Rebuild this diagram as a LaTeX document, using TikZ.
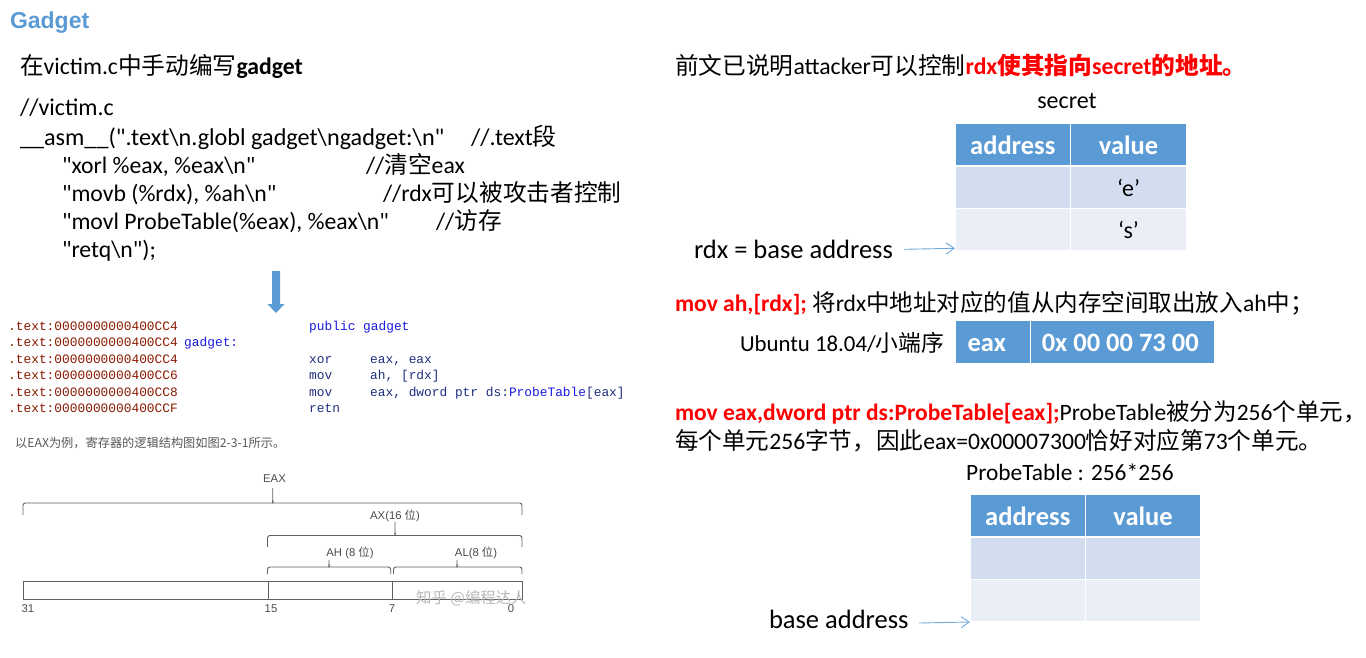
\documentclass[tikz,border=0pt]{standalone}
\usepackage{fontspec}
\setmainfont{Carlito}
\newfontfamily\cjk{Noto Sans CJK SC}
\newfontfamily\arialf{Liberation Sans}
\newfontfamily\monof{Liberation Mono}
\newfontfamily\carl{Carlito}
\newcommand{\zh}[1]{{\cjk #1}}
\newcommand{\dq}{{\carl\char34 }}
\newcommand{\bs}{\textbackslash}
\newcommand{\fsz}[1]{\fontsize{#1}{#1}\selectfont}
% left x, right x, centre x, top y, bottom y, peak y
\newcommand{\regbrace}[6]{%
  \pgfmathsetmacro{\cl}{#3-2.5}\pgfmathsetmacro{\cr}{#3+2.5}%
  \pgfmathsetmacro{\st}{#4-3}%
  \pgfmathsetmacro{\ctl}{#3-0.8}\pgfmathsetmacro{\ctr}{#3+0.8}%
  \pgfmathsetmacro{\cty}{#4-0.8}%
  \draw[brace] (#1,#5) -- (#1,#4) -- (\cl,#4) .. controls (\ctl,#4) and (#3,\cty) .. (#3,\st) -- (#3,#6);
  \draw[brace] (#2,#5) -- (#2,#4) -- (\cr,#4) .. controls (\ctr,#4) and (#3,\cty) .. (#3,\st);
}
\definecolor{hdr}{HTML}{5B9BD5}
\definecolor{rowa}{HTML}{D2DEEF}
\definecolor{rowb}{HTML}{EAEFF7}
\definecolor{addrc}{HTML}{8B1A00}
\definecolor{opc}{HTML}{1F2F7F}
\definecolor{symc}{HTML}{1A1AE0}
\definecolor{linec}{HTML}{606060}
\usetikzlibrary{arrows.meta}
\tikzset{
 x=1pt,y=-1pt,
 txt/.style={anchor=base west,inner sep=0pt,outer sep=0pt,font=\fsz{24},text=black},
 txtc/.style={txt,font=\fsz{23.7}},
 txtb/.style={txt,font=\fsz{26.5}},
 code/.style={anchor=base west,inner sep=0pt,font=\monof\fsz{12.85},text=opc},
 addr/.style={code,text=addrc},
 cell/.style={anchor=north west,inner sep=0pt,outer sep=0pt,draw=none},
 hcell/.style={cell,fill=hdr,text=white,font=\fsz{26.5}\bfseries,text height=19pt,text depth=0pt},
 rowA/.style={cell,fill=rowa,text=black,font=\fsz{24}},
 rowB/.style={cell,fill=rowb,text=black,font=\fsz{24}},
 thin arrow/.style={draw=hdr!85,line width=.9pt,-{Straight Barb[length=8pt,width=11pt]}},
 brace/.style={draw=linec,line width=.9pt,rounded corners=2.5pt},
 regline/.style={draw=linec,line width=.9pt},
 fig/.style={inner sep=0pt,text=black!70,font=\arialf\fsz{11.3}},
}
\begin{document}
\begin{tikzpicture}
\useasboundingbox (0,0) rectangle (1366,657);
\fill[white] (0,0) rectangle (1366,657);
\node[txt,font=\arialf\bfseries\fsz{23},text=hdr] (title) at (10,28) {Gadget};

\node[txt,font=\fsz{23.7}] (l1) at (20,74) {\zh{在}victim.c\zh{中手动编写}\textbf{gadget}};
\node[txt] (l2) at (20,115) {//victim.c};
\node[txt,font=\fsz{24.2}] (l3) at (20,145) {\_\_asm\_\_(\dq.text\bs n.globl gadget\bs ngadget:\bs n\dq};
\node[txt] (l3b) at (471,145) {//.text\zh{段}};
\node[txtc] (l4) at (62,173) {\dq xorl \%eax, \%eax\bs n\dq};
\node[txtc] (l4b) at (366,173) {//\zh{清空}eax};
\node[txtc] (l5) at (62,201) {\dq movb (\%rdx), \%ah\bs n\dq};
\node[txtc] (l5b) at (383,201) {//rdx\zh{可以被攻击者控制}};
\node[txtc] (l6) at (62,229) {\dq movl ProbeTable(\%eax), \%eax\bs n\dq};
\node[txtc] (l6b) at (436,229) {//\zh{访存}};
\node[txtc] (l7) at (62,257) {\dq retq\bs n\dq);};

\fill[hdr] (272,271) -- (280,271) -- (280,304) -- (284.5,304) -- (276,313) -- (267.5,304) -- (272,304) -- cycle;

\foreach \yy/\ad in {330/CC4,346/CC4,363/CC4,379/CC6,396/CC8,412/CCF}
  \node[addr] at (8,\yy) {.text:0000000000400\ad};
\node[code,text=symc] (pg) at (309,330) {public gadget};
\node[code,text=symc] (gl) at (184,346) {gadget:};
\node[code] (x1) at (309,363) {xor};
\node[code] (x2) at (370,363) {eax, eax};
\node[code] (m1) at (309,379) {mov};
\node[code] (m2) at (370,379) {ah, [rdx]};
\node[code] (n1) at (309,396) {mov};
\node[code] (n2) at (370,396) {eax, dword ptr ds:\textcolor{symc}{ProbeTable}[eax]};
\node[code] (r1) at (309,412) {retn};
\node[anchor=base west,inner sep=0pt,text=black!65,font=\cjk\fsz{12.2}] (cap) at (15,447) {以EAX为例，寄存器的逻辑结构图如图2-3-1所示。};

% register figure
\node[fig] (eax) at (274.5,479) {EAX};
\node[fig] (ax) at (395,516) {AX(16 \zh{位})};
\node[fig] (ah) at (350,553) {AH (8 \zh{位})};
\node[fig] (al) at (476,553) {AL(8 \zh{位})};
\regbrace{23}{522}{272.7}{503}{515}{488}
\regbrace{267.5}{522}{395}{535.5}{547}{522}
\regbrace{267.5}{390.7}{329}{567}{574}{560}
\regbrace{393.5}{522}{457}{567}{574}{560}
\draw[regline] (23,581) rectangle (522,599.5);
\draw[regline] (268.3,581) -- (268.3,599.5);
\draw[regline] (392.3,581) -- (392.3,599.5);
\node[fig] (b31) at (28,609) {31};
\node[fig] (b15) at (271,609) {15};
\node[fig] (b7) at (392,609) {7};
\node[fig] (b0) at (511,609) {0};
\node[anchor=west,inner sep=0pt,text=black!28,font=\cjk\fsz{15.4}] (wm) at (416,598) {知乎 @编程达人};

% right column
\node[txt,font=\fsz{23.7}] (r1a) at (675,74) {\zh{前文已说明}attacker\zh{可以控制}\textcolor{red}{\textbf{rdx\zh{使其指向}secret\zh{的地址。}}}};
\node[inner sep=0pt,font=\fsz{24}] (sec) at (1067,101) {secret};

\node[hcell,minimum width=113.5pt,minimum height=41pt] (h1) at (956,124) {address};
\node[hcell,minimum width=115pt,minimum height=41pt] (h2) at (1071,124) {value};
\node[rowA,minimum width=113.5pt,minimum height=41pt] (c11) at (956,167) {};
\node[rowA,minimum width=115pt,minimum height=41pt] (c12) at (1071,167) {‘e’};
\node[rowB,minimum width=113.5pt,minimum height=41pt] (c21) at (956,209) {};
\node[rowB,minimum width=115pt,minimum height=41pt] (c22) at (1071,209) {‘s’};

\node[txtb] (rdx) at (694,258) {rdx = base address};
\coordinate (rdxe) at (904,249.3);
\coordinate (rdxt) at (955,248.3);
\draw[thin arrow] (rdxe) -- (rdxt);

\node[txt,font=\fsz{23.55}] (mov1) at (675,311) {\textcolor{red}{\textbf{mov ah,[rdx];}} \zh{将}rdx\zh{中地址对应的值从内存空间取出放入}ah\zh{中；}};
\node[txt,font=\fsz{22.8}] (ub) at (740,351) {Ubuntu 18.04/\zh{小端序}};
\node[hcell,minimum width=73.5pt,minimum height=42pt] (e1) at (956,321) {eax\hspace*{12pt}};
\node[hcell,minimum width=182.5pt,minimum height=42pt] (e2) at (1031,321) {0x 00 00 73 00\hspace*{4pt}};

\node[txt,font=\fsz{23.5}] (mov2) at (675,420) {\textcolor{red}{\textbf{mov eax,dword ptr ds:ProbeTable[eax];}}ProbeTable\zh{被分为}256\zh{个单元，}};
\node[txt,font=\fsz{23.6}] (mov3) at (675,449) {\zh{每个单元}256\zh{字节，因此}eax=0x00007300\zh{恰好对应第}73\zh{个单元。}};
\node[inner sep=0pt,font=\fsz{23.4}] (pt) at (1070,472) {ProbeTable : 256*256};

\node[hcell,minimum width=113.5pt,minimum height=41pt] (p1) at (971,495) {address};
\node[hcell,minimum width=114pt,minimum height=41pt] (p2) at (1086,495) {value};
\node[rowA,minimum width=113.5pt,minimum height=41pt] (q11) at (971,538) {};
\node[rowA,minimum width=114pt,minimum height=41pt] (q12) at (1086,538) {};
\node[rowB,minimum width=113.5pt,minimum height=41pt] (q21) at (971,580) {};
\node[rowB,minimum width=114pt,minimum height=41pt] (q22) at (1086,580) {};

\node[txtb] (ba) at (769,628) {base address};
\coordinate (bae) at (919,623);
\coordinate (bat) at (970,622);
\draw[thin arrow] (bae) -- (bat);
\end{tikzpicture}
\end{document}
